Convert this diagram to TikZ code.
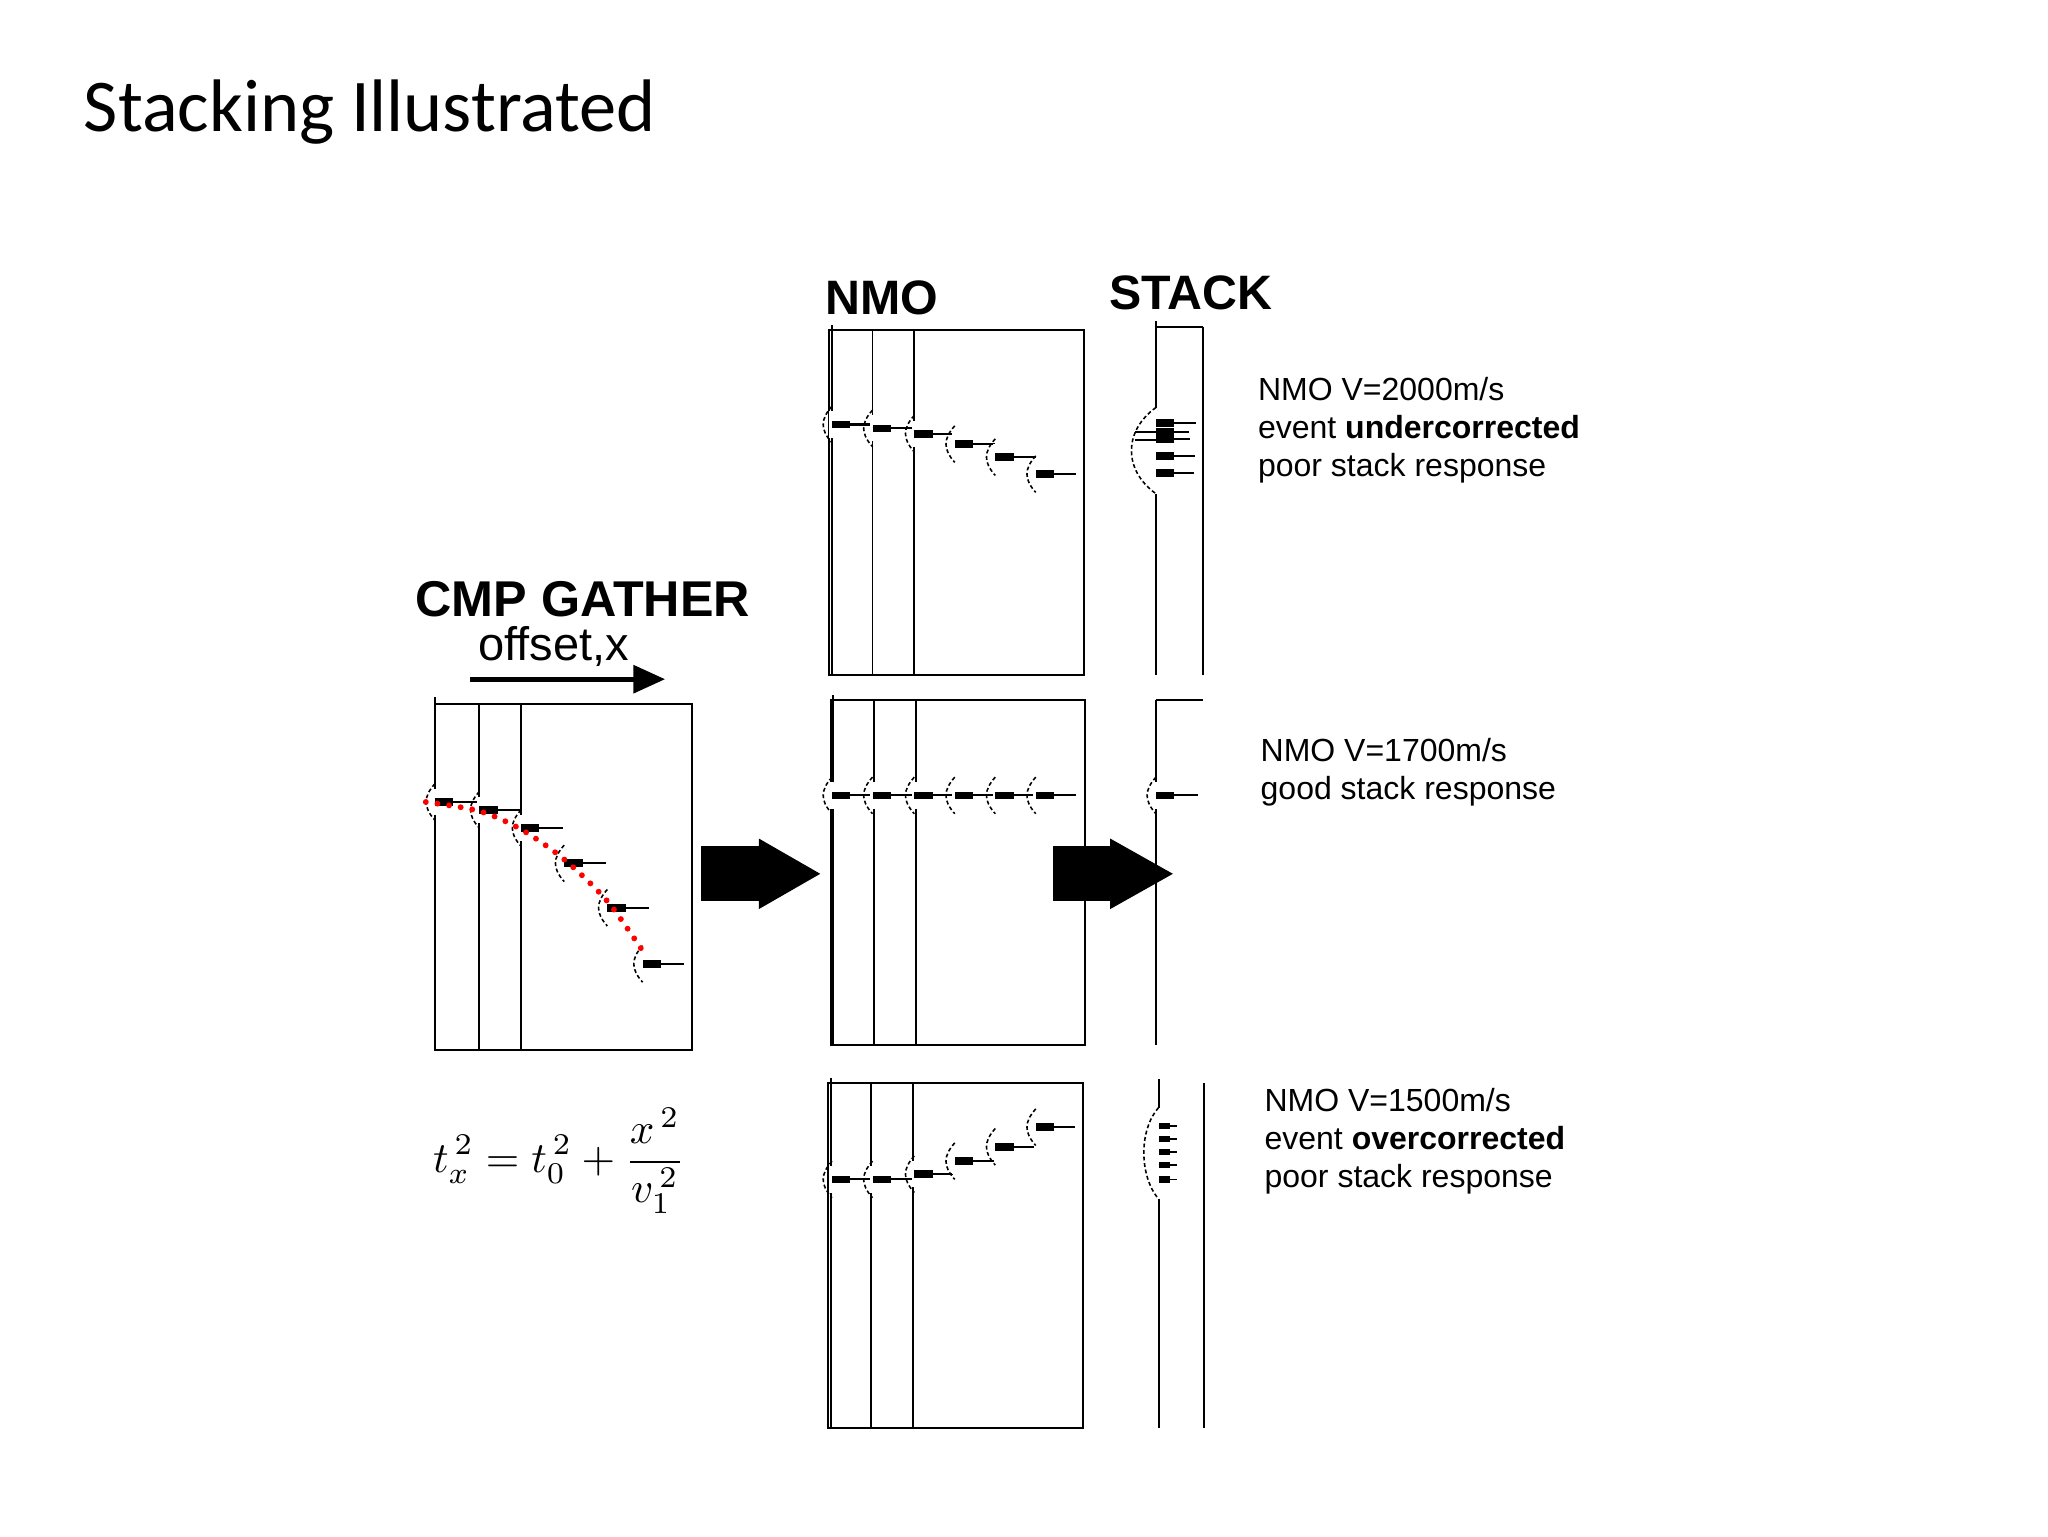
\documentclass[tikz,border=0pt]{standalone}
\usepackage{fontspec}
\setmainfont{Liberation Sans}
\newfontfamily\titlefont{Carlito}
\newcommand{\wav}[3]{%
 \fill[white] (#1-2,#2-10) rectangle (#1+2,#2+10);
 \fill (#1,#2-3) rectangle (#1+14,#2+3);
 \draw[line width=1.6] (#1,#2) -- (#1+#3,#2);
 \draw[densely dashed, line width=1.2] (#1,#2-14) .. controls (#1-9,#2-4) and (#1-9,#2+4) .. (#1,#2+14);}
\tikzset{trace/.style={line width=1.5}, lbl/.style={font=\fontsize{37}{40}\selectfont\bfseries, anchor=base west, inner sep=0},
 note/.style={font=\fontsize{24.5}{29}\selectfont, align=left, anchor=north west, inner sep=0}}
\begin{document}
\begin{tikzpicture}[x=1pt,y=-1pt]
\useasboundingbox (0,0) rectangle (1568,1176);
\node[anchor=base west, inner sep=0, font=\titlefont\fontsize{57}{60}\selectfont] (title) at (64,101) {Stacking Illustrated};
% labels
\node[lbl] (nmo) at (632,241) {NMO};
\node[lbl] (stack) at (849,237) {STACK};
\node[lbl, font=\fontsize{38.5}{40}\selectfont\bfseries] (cmp) at (318,472) {CMP GATHER};
\node[anchor=base west, inner sep=0, font=\fontsize{36}{38}\selectfont] (off) at (366,506) {offset,x};
\draw[line width=4] (360,520) -- (488,520);
\fill (485,509) -- (509,520) -- (485,531) -- cycle;
% CMP gather
\draw[trace] (333,539) rectangle (530,804);
\draw[trace] (333,534) -- (333,804) (367,539) -- (367,804) (399,539) -- (399,804);
\foreach \x/\y in {333/614,367/620,399/634,432/661,465/695,492/738}{\wav{\x}{\y}{32}}
\draw[red, line width=4.5, line cap=round, dash pattern=on 0pt off 9pt] plot[smooth] coordinates {(326,614) (367,621) (399,635) (432,658) (465,690) (492,728)};
% block arrows
\fill (537,648) rectangle (583,690); \fill (581,642) -- (628,669) -- (581,696) -- cycle;
% NMO panels
\foreach \top/\bot/\l in {253/517/635, 536/800/636, 829/1093/634}{
 \draw[trace] (\l,\top) rectangle (\l+195,\bot);
 \draw[trace] (\l+2,\top-4) -- (\l+2,\bot) (\l+33,\top) -- (\l+33,\bot) (\l+65,\top) -- (\l+65,\bot);}
\foreach \x/\y in {637/325,668/328,700/332,731/340,762/350,793/363}{\wav{\x}{\y}{31}}
\foreach \x in {637,668,700,731,762,793}{\wav{\x}{609}{31}}
\foreach \x/\y in {637/903,668/903,700/899,731/889,762/878,793/863}{\wav{\x}{\y}{30}}
% stack column
\draw[trace] (885,246) -- (885,517) (921,250) -- (921,517) (885,250) -- (921,250);
\draw[trace] (885,536) -- (885,800) (885,536) -- (921,536);
\draw[trace] (887,826) -- (887,1093) (922,829) -- (922,1093);
\fill[white] (880,312) rectangle (890,378);
\draw[densely dashed, line width=1.2] (885,312) .. controls (860,330) and (860,360) .. (885,378);
\foreach \y/\l in {324/31,331/25,336/26,349/30,362/29}{\fill (885,\y-3) rectangle (899,\y+3); \draw[line width=1.6] (885,\y) -- (885+\l,\y);}
\foreach \y in {331,337}{\draw[line width=1.6] (869,\y) -- (885,\y);}
\wav{885}{609}{32}
\fill[white] (882,848) rectangle (892,918);
\draw[densely dashed, line width=1.2] (887,848) .. controls (872,865) and (872,900) .. (887,918);
\foreach \y in {862,872,882,892,903}{\fill (887,\y-2.5) rectangle (896,\y+2.5); \draw[line width=1.4] (887,\y) -- (901,\y);}
\fill (806,648) rectangle (852,690); \fill (850,642) -- (898,669) -- (850,696) -- cycle;
% notes
\node[note] (n1) at (963,289) {NMO V=2000m/s\\event \textbf{undercorrected}\\poor stack response};
\node[note] (n2) at (965,565) {NMO V=1700m/s\\good stack response};
\node[note] (n3) at (968,833) {NMO V=1500m/s\\event \textbf{overcorrected}\\poor stack response};
% formula
\node[anchor=center, inner sep=0] (eq) at (428,889) {\scalebox{3.3}{$\displaystyle t_x^{\,2} = t_0^{\,2} + \frac{x^{\,2}}{v_1^{\,2}}$}};
\end{tikzpicture}
\end{document}
